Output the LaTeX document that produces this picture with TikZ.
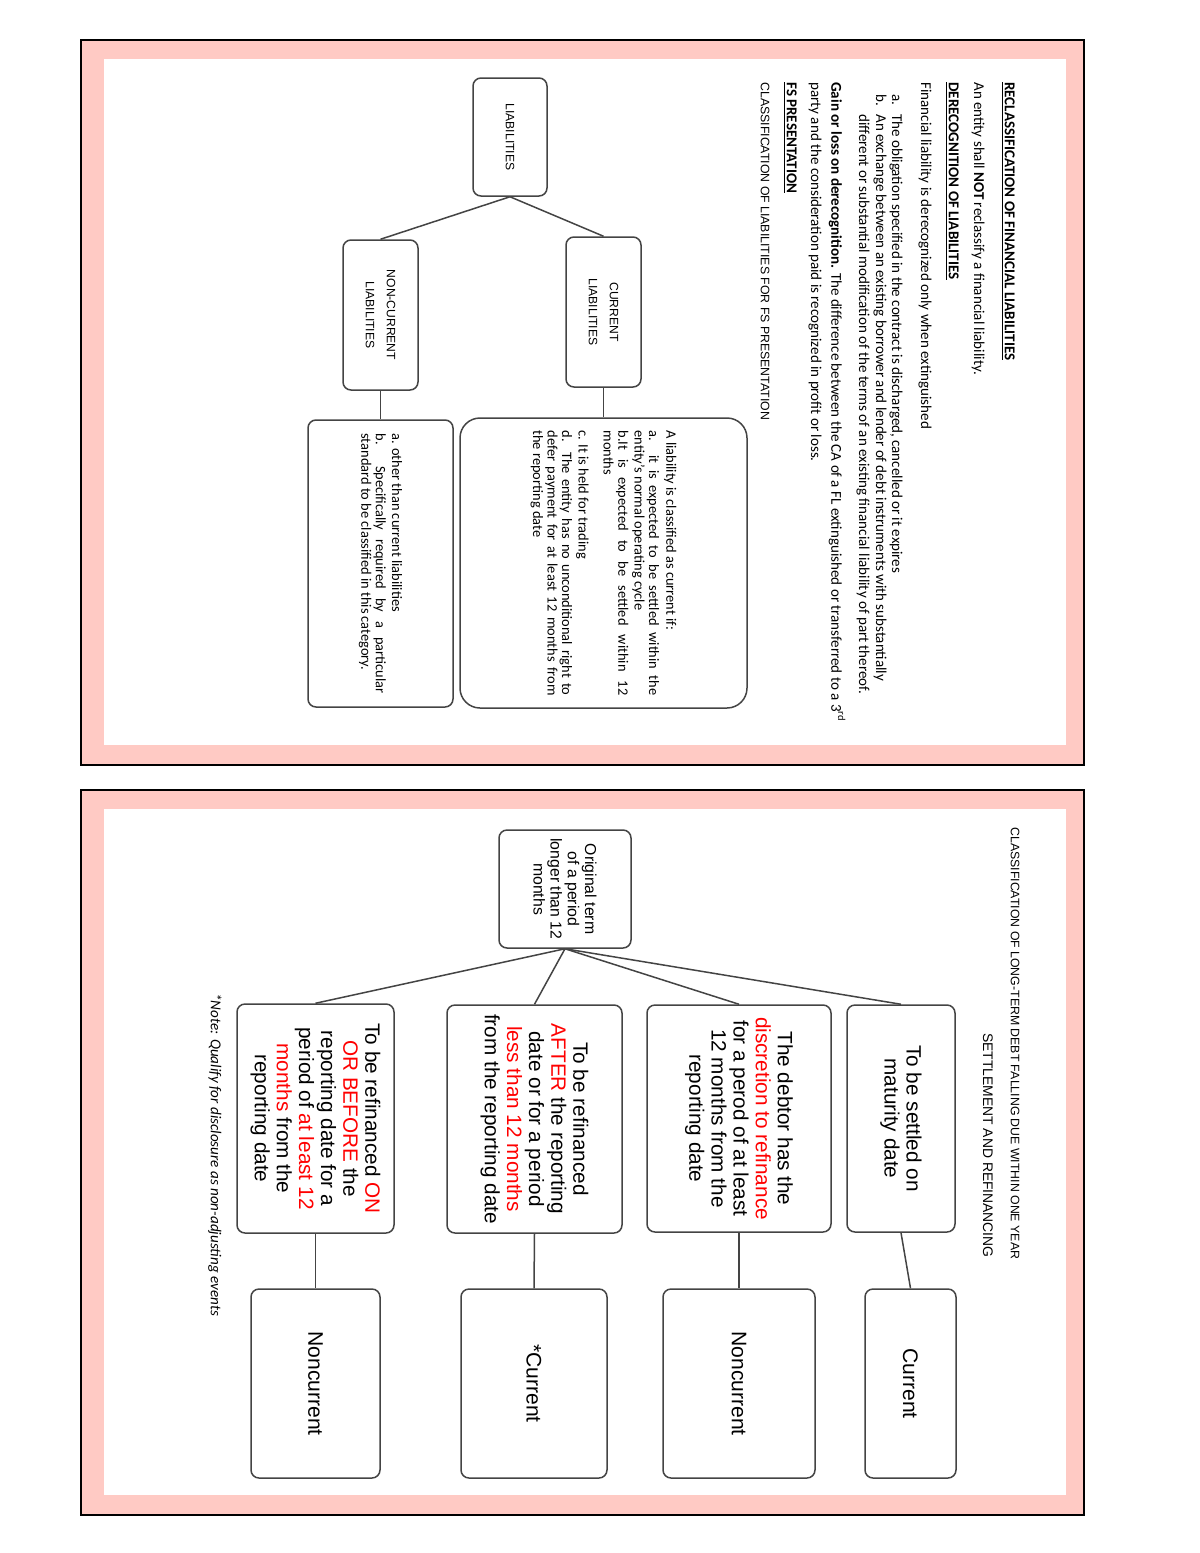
\documentclass[tikz,border=0pt]{standalone}
\usepackage{fontspec}
\setmainfont{Carlito}
\newfontfamily\arialfont{Liberation Sans}
\usetikzlibrary{positioning}
\definecolor{framepink}{HTML}{FFCAC4}
\definecolor{boxline}{HTML}{444444}
\newcommand{\hl}[1]{\textcolor{red}{#1}}

\begin{document}
\begin{tikzpicture}[
  x=0.2mm,y=-0.2mm,
  every node/.style={rotate=-90,inner sep=0pt},
  txt/.style={anchor=west,font=\fontsize{8.55}{9}\selectfont},
  hd/.style={txt,font=\fontsize{8.55}{9}\selectfont\bfseries},
  caps/.style={anchor=west,font=\arialfont\fontsize{7}{8}\selectfont},
  box/.style={draw=boxline,line width=0.3mm,rounded corners=1.6mm,align=center},
  capbox/.style={box,font=\arialfont\fontsize{6.9}{12}\selectfont},
  detail/.style={box,align=justify,font=\fontsize{8.2}{8.3}\selectfont},
  choice/.style={box,font=\arialfont\fontsize{11.8}{12.6}\selectfont},
  result/.style={box,font=\arialfont\fontsize{12}{13}\selectfont,
                 minimum width=37.8mm},
  link/.style={boxline,line width=0.3mm}
]
\useasboundingbox (0,0) rectangle (1200,1553);
\fill[white] (0,0) rectangle (1200,1553);

% frames
\foreach \top/\bot in {40/765,790/1515}{
  \fill[framepink] (81,\top) rectangle (1084,\bot);
  \fill[white] (104,\top+19) rectangle (1066,\bot-20);
  \draw[line width=0.35mm] (81,\top) rectangle (1084,\bot);
}

% ---- page 1: financial liabilities
\node[hd] (reclass) at (1008,82) {\underline{RECLASSIFICATION OF FINANCIAL LIABILITIES}};
\node[txt] (entity) at (978,82) {An entity shall \textbf{NOT} reclassify a financial liability.};
\node[hd] (derecog) at (952,82) {\underline{DERECOGNITION OF LIABILITIES}};
\node[txt] (finliab) at (925,82) {Financial liability is derecognized only when extinguished};
\node[txt] (itema) at (896,94) {\makebox[4mm][l]{a.}The obligation specified in the contract is discharged, cancelled or it expires};
\node[txt] (itemb) at (880,94) {\makebox[4mm][l]{b.}An exchange between an existing borrower and lender of debt instruments with substantially};
\node[txt] (itemb2) at (863,114) {different or substantial modification of the terms of an existing financial liability of part thereof.};
\node[txt] (gain) at (837,82) {\textbf{Gain or loss on derecognition.} The difference between the CA of a FL extinguished or transferred to a 3\textsuperscript{rd}};
\node[txt] (gain2) at (815,82) {party and the consideration paid is recognized in profit or loss.};
\node[hd] (fspres) at (790,82) {\underline{FS PRESENTATION}};
\node[caps] (classhead) at (765,82) {CLASSIFICATION OF LIABILITIES FOR FS PRESENTATION};

\node[capbox,minimum width=23.6mm,minimum height=14.8mm] (liab) at (510,137) {LIABILITIES};
\node[capbox,minimum width=30mm,minimum height=15mm] (cur) at (603.5,312) {CURRENT\\LIABILITIES};
\node[capbox,minimum width=30mm,minimum height=15mm] (noncur) at (380.5,315) {NON-CURRENT\\LIABILITIES};

\node[detail,rounded corners=4mm,minimum width=58mm,minimum height=57.4mm,text width=53mm]
  (curdet) at (603.5,563) {A liability is classified as current if:\\[1.5pt]
  a. it is expected to be settled within the\linebreak entity's normal operating cycle\\[1pt]
  b.It is expected to be settled within 12\linebreak months\\[6pt]
  c. It is held for trading\\[1pt]
  d. The entity has no unconditional right to\linebreak defer payment for at least 12 months from\linebreak the reporting date};
\node[detail,minimum width=57.4mm,minimum height=29mm,text width=52mm]
  (noncurdet) at (380.5,563.5) {a. other than current liabilities\\[1pt]
  b. Specifically required by a particular\linebreak standard to be classified in this category.};

\draw[link] (liab.east) -- (cur.west);
\draw[link] (liab.east) -- (noncur.west);
\draw[link] (cur.east) -- (curdet.west);
\draw[link] (noncur.east) -- (noncurdet.west);

% ---- page 2: long-term debt due within one year
\node[caps] (ltdhead) at (1015,827) {CLASSIFICATION OF LONG-TERM DEBT FALLING DUE WITHIN ONE YEAR};
\node[caps,anchor=east,font=\arialfont\fontsize{7.9}{9}\selectfont] (ltdsub) at (988,1258) {SETTLEMENT AND REFINANCING};

\node[box,font=\arialfont\fontsize{9}{9.8}\selectfont,minimum width=23.6mm,minimum height=26.4mm]
  (orig) at (565,889) {Original term\\of a period\\longer than 12\\months};

\node[choice,minimum width=45.4mm,minimum height=21.6mm] (settle) at (901,1118.5)
  {To be settled on\\maturity date};
\node[choice,minimum width=45.4mm,minimum height=36.8mm] (discr) at (739,1118.5)
  {The debtor has the\\\hl{discretion to refinance}\\for a perod of at least\\12 months from the\\reporting date};
\node[choice,minimum width=45.6mm,minimum height=35mm] (after) at (534.5,1119)
  {To be refinanced\\\hl{AFTER} the reporting\\date or for a period\\\hl{less than 12 months}\\from the reporting date};
\node[choice,minimum width=45.8mm,minimum height=31.4mm] (onbefore) at (315.5,1118.5)
  {To be refinanced \hl{ON}\\\hl{OR BEFORE} the\\reporting date for a\\period of \hl{at least 12}\\\hl{months} from the\\reporting date};

\node[result,minimum height=18.2mm] (rcur) at (910.5,1383.5) {Current};
\node[result,minimum height=30.4mm] (rnoncur) at (739,1383.5) {Noncurrent};
\node[result,minimum height=29.2mm] (rstar) at (534,1383.5) {*Current};
\node[result,minimum height=25.8mm] (rnoncurb) at (315.5,1383.5) {Noncurrent};

\foreach \k in {settle,discr,after,onbefore}
  \draw[link] (orig.east) -- (\k.west);
\draw[link] (settle.east) -- (rcur.west);
\draw[link] (discr.east) -- (rnoncur.west);
\draw[link] (after.east) -- (rstar.west);
\draw[link] (onbefore.east) -- (rnoncurb.west);

\node[txt,font=\fontsize{8.6}{9}\selectfont\itshape] (note) at (215,993)
  {*Note: Qualify for disclosure as non-adjusting events};
\end{tikzpicture}
\end{document}
